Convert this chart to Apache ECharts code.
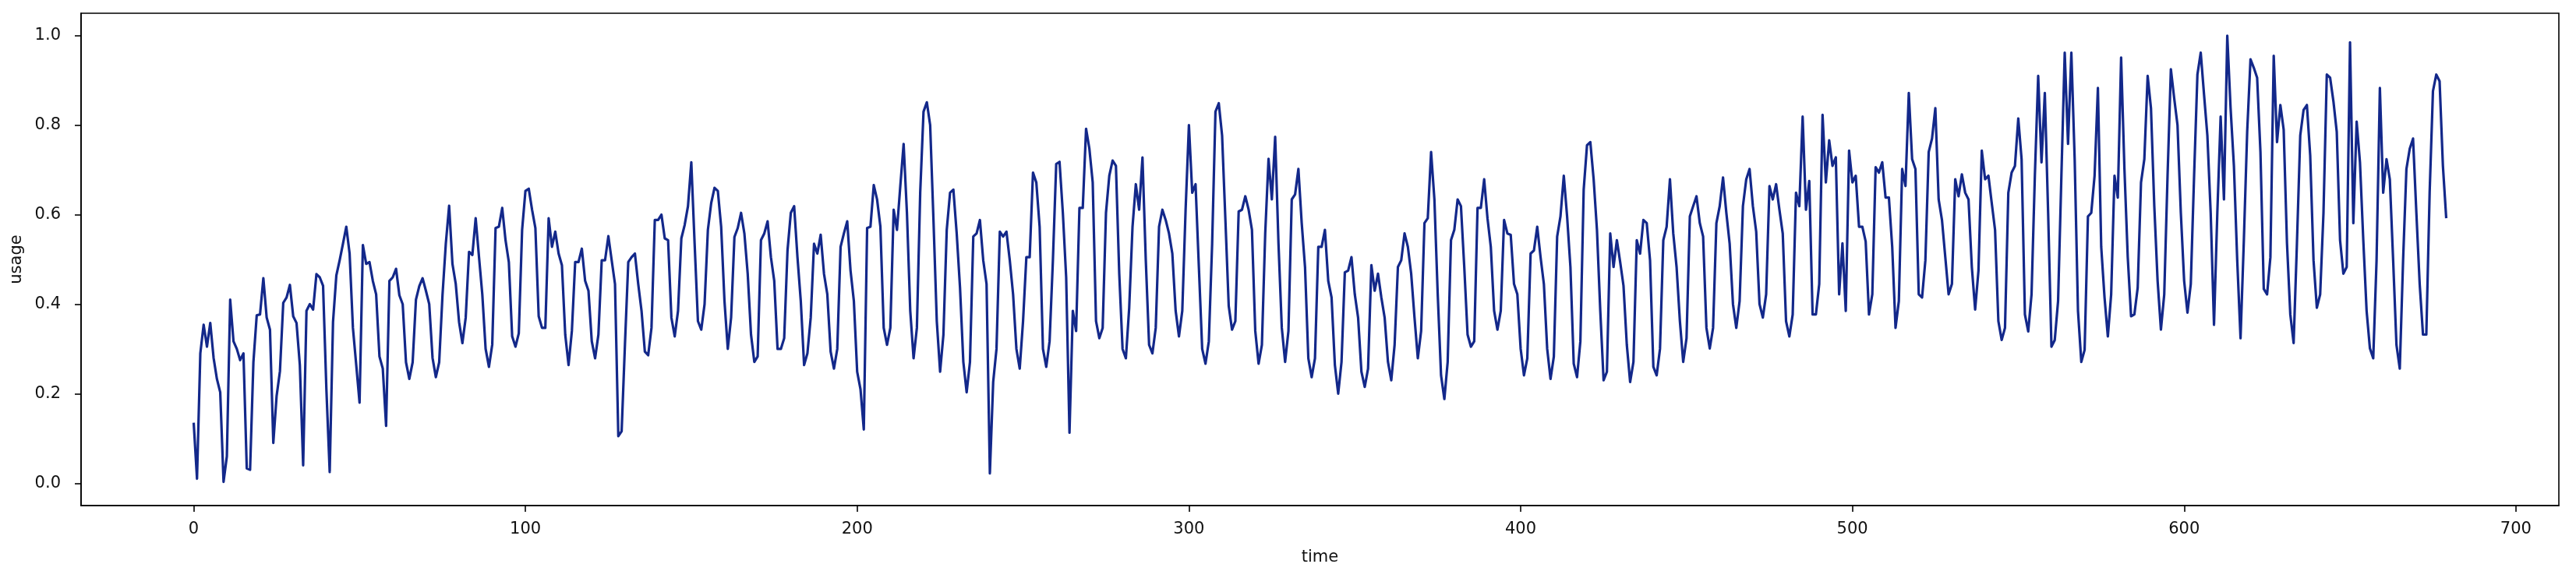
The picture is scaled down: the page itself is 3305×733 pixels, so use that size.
<!DOCTYPE html>
<html>
<head>
<meta charset="utf-8">
<script src="https://cdn.jsdelivr.net/npm/echarts@6/dist/echarts.min.js"></script>
<style>
  html, body { margin: 0; padding: 0; background: #fff; }
  #chart { width: 3305px; height: 733px; }
</style>
</head>
<body>
<div id="chart"></div>
<script>
// usage values, in blocks of 100 time steps
const usage000 = [
  0.135,0.01,0.29,0.354,0.305,0.358,0.28,0.233,0.203,0.003,
  0.06,0.41,0.317,0.30,0.275,0.29,0.033,0.03,0.27,0.375,
  0.377,0.458,0.37,0.343,0.09,0.195,0.25,0.403,0.415,0.443,
  0.373,0.358,0.264,0.04,0.385,0.40,0.388,0.467,0.46,0.441,
  0.21,0.025,0.36,0.464,0.498,0.535,0.573,0.513,0.347,0.264,
  0.18,0.532,0.49,0.494,0.452,0.422,0.283,0.256,0.128,0.452,
  0.46,0.479,0.42,0.40,0.27,0.233,0.27,0.41,0.44,0.458,
  0.43,0.40,0.28,0.237,0.27,0.42,0.535,0.62,0.49,0.445,
  0.36,0.313,0.37,0.517,0.51,0.592,0.506,0.422,0.30,0.26,
  0.31,0.57,0.573,0.615,0.543,0.494,0.328,0.305,0.335,0.566
];
const usage100 = [
  0.653,0.658,0.611,0.57,0.373,0.347,0.347,0.592,0.528,0.562,
  0.513,0.487,0.332,0.264,0.34,0.494,0.494,0.524,0.452,0.43,
  0.317,0.279,0.332,0.498,0.498,0.552,0.498,0.445,0.105,0.116,
  0.31,0.494,0.505,0.513,0.445,0.385,0.294,0.286,0.347,0.588,
  0.588,0.60,0.547,0.543,0.37,0.328,0.385,0.547,0.577,0.619,
  0.717,0.535,0.362,0.343,0.40,0.566,0.626,0.66,0.653,0.573,
  0.407,0.30,0.37,0.55,0.57,0.604,0.558,0.468,0.332,0.271,
  0.283,0.543,0.558,0.585,0.505,0.452,0.30,0.30,0.324,0.52,
  0.604,0.619,0.505,0.407,0.264,0.29,0.37,0.535,0.513,0.555,
  0.468,0.422,0.294,0.256,0.30,0.528,0.558,0.585,0.475,0.407
];
const usage200 = [
  0.249,0.21,0.12,0.57,0.573,0.666,0.634,0.573,0.347,0.309,
  0.347,0.611,0.566,0.664,0.758,0.604,0.385,0.279,0.347,0.649,
  0.83,0.851,0.80,0.588,0.362,0.249,0.332,0.566,0.649,0.656,
  0.558,0.437,0.271,0.203,0.271,0.551,0.558,0.588,0.498,0.445,
  0.022,0.226,0.30,0.562,0.551,0.562,0.498,0.422,0.30,0.256,
  0.362,0.505,0.505,0.694,0.672,0.573,0.30,0.26,0.317,0.498,
  0.713,0.718,0.604,0.46,0.113,0.385,0.34,0.615,0.615,0.792,
  0.747,0.672,0.362,0.324,0.347,0.604,0.687,0.721,0.709,0.468,
  0.30,0.279,0.392,0.573,0.668,0.611,0.728,0.498,0.309,0.29,
  0.347,0.573,0.611,0.588,0.558,0.513,0.385,0.328,0.385,0.611
];
const usage300 = [
  0.80,0.649,0.668,0.483,0.30,0.267,0.317,0.535,0.83,0.849,
  0.777,0.588,0.396,0.343,0.362,0.607,0.611,0.641,0.611,0.566,
  0.34,0.267,0.309,0.558,0.725,0.634,0.774,0.535,0.347,0.271,
  0.34,0.634,0.645,0.702,0.581,0.483,0.279,0.237,0.279,0.528,
  0.528,0.566,0.452,0.415,0.264,0.20,0.271,0.471,0.475,0.505,
  0.422,0.37,0.249,0.215,0.256,0.487,0.43,0.468,0.415,0.37,
  0.271,0.23,0.309,0.483,0.498,0.558,0.528,0.468,0.37,0.279,
  0.34,0.581,0.592,0.74,0.634,0.422,0.241,0.188,0.271,0.543,
  0.566,0.634,0.619,0.483,0.332,0.305,0.317,0.615,0.615,0.679,
  0.592,0.528,0.385,0.343,0.385,0.588,0.558,0.555,0.445,0.422
];
const usage400 = [
  0.30,0.241,0.279,0.513,0.52,0.573,0.505,0.445,0.30,0.233,
  0.283,0.551,0.596,0.687,0.596,0.483,0.267,0.237,0.317,0.656,
  0.755,0.762,0.679,0.566,0.385,0.23,0.249,0.558,0.483,0.543,
  0.494,0.441,0.309,0.226,0.271,0.543,0.513,0.588,0.581,0.498,
  0.26,0.241,0.30,0.543,0.573,0.679,0.558,0.483,0.362,0.271,
  0.324,0.596,0.619,0.641,0.581,0.551,0.347,0.301,0.347,0.581,
  0.619,0.683,0.604,0.535,0.40,0.347,0.407,0.619,0.679,0.702,
  0.619,0.562,0.40,0.37,0.422,0.664,0.634,0.668,0.611,0.558,
  0.362,0.328,0.377,0.649,0.619,0.819,0.611,0.675,0.377,0.377,
  0.445,0.823,0.672,0.766,0.709,0.728,0.422,0.536,0.385,0.743
];
const usage500 = [
  0.672,0.687,0.573,0.573,0.54,0.377,0.422,0.706,0.694,0.717,
  0.638,0.638,0.528,0.347,0.407,0.702,0.664,0.872,0.724,0.702,
  0.422,0.415,0.498,0.74,0.77,0.838,0.634,0.588,0.505,0.422,
  0.445,0.679,0.641,0.69,0.649,0.634,0.483,0.388,0.475,0.743,
  0.679,0.687,0.626,0.566,0.362,0.32,0.347,0.649,0.694,0.709,
  0.815,0.724,0.377,0.339,0.422,0.687,0.91,0.717,0.872,0.604,
  0.305,0.32,0.407,0.687,0.962,0.758,0.962,0.724,0.385,0.271,
  0.298,0.596,0.604,0.687,0.883,0.528,0.415,0.328,0.422,0.687,
  0.638,0.951,0.702,0.505,0.373,0.377,0.437,0.672,0.724,0.91,
  0.838,0.619,0.452,0.343,0.422,0.687,0.925,0.86,0.80,0.604
];
const usage600 = [
  0.452,0.381,0.445,0.687,0.913,0.962,0.868,0.777,0.604,0.354,
  0.604,0.819,0.634,1.0,0.838,0.709,0.498,0.324,0.543,0.785,
  0.947,0.928,0.906,0.74,0.434,0.422,0.505,0.955,0.762,0.845,
  0.79,0.536,0.377,0.313,0.536,0.777,0.834,0.845,0.732,0.498,
  0.392,0.422,0.604,0.913,0.906,0.853,0.785,0.543,0.468,0.483,
  0.985,0.581,0.808,0.717,0.543,0.385,0.301,0.279,0.498,0.883,
  0.649,0.724,0.679,0.498,0.309,0.256,0.498,0.702,0.747,0.77,
  0.604,0.445,0.332,0.332,0.649,0.876,0.913,0.898,0.709,0.592
];
const xTicks = [0, 100, 200, 300, 400, 500, 600, 700];
const yTicks = [0.0, 0.2, 0.4, 0.6, 0.8, 1.0];

const usage = [].concat(usage000, usage100, usage200, usage300, usage400, usage500, usage600);
const points = usage.map((v, i) => [i, v]);

const FONT = 'DejaVu Sans';
const chart = echarts.init(document.getElementById('chart'), null, { renderer: 'canvas' });
chart.setOption({
  animation: false,
  backgroundColor: '#ffffff',
  grid: {
    left: 104, right: 22, top: 17, bottom: 84,
    show: true, borderColor: '#000', borderWidth: 1.6, backgroundColor: 'transparent'
  },
  xAxis: {
    type: 'value',
    min: -33.95, max: 712.95,
    name: 'time', nameLocation: 'middle', nameGap: 56,
    nameTextStyle: { fontFamily: FONT, fontSize: 21, color: '#111' },
    axisLine: { show: true, onZero: false, lineStyle: { color: '#000', width: 1.6 } },
    axisTick: { show: true, customValues: xTicks, length: 8, lineStyle: { color: '#000', width: 1.6 } },
    axisLabel: { customValues: xTicks, margin: 20, fontFamily: FONT, fontSize: 21, color: '#111',
                 formatter: v => String(Math.round(v)) },
    splitLine: { show: false }
  },
  yAxis: {
    type: 'value',
    min: -0.05, max: 1.05,
    name: 'usage', nameLocation: 'middle', nameGap: 72, nameRotate: 90,
    nameTextStyle: { fontFamily: FONT, fontSize: 21, color: '#111' },
    axisLine: { show: true, onZero: false, lineStyle: { color: '#000', width: 1.6 } },
    axisTick: { show: true, customValues: yTicks, length: 8, lineStyle: { color: '#000', width: 1.6 } },
    axisLabel: { customValues: yTicks, margin: 26, fontFamily: FONT, fontSize: 21, color: '#111',
                 formatter: v => v.toFixed(1) },
    splitLine: { show: false }
  },
  series: [{
    type: 'line',
    data: points,
    showSymbol: false,
    symbol: 'none',
    lineStyle: { color: '#13288a', width: 3.2, join: 'round' },
    emphasis: { disabled: true }
  }]
});
</script>
</body>
</html>
